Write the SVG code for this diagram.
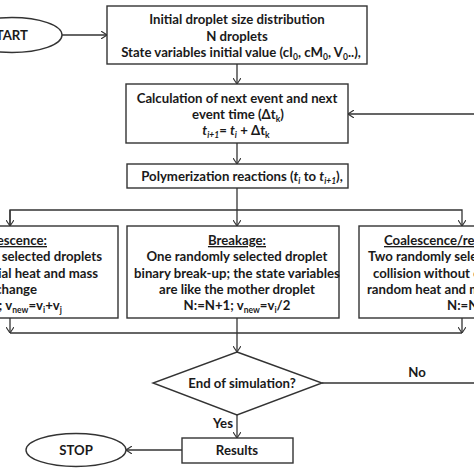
<svg xmlns="http://www.w3.org/2000/svg" width="474" height="474" viewBox="0 0 474 474">
<style>
  .box { fill: #ffffff; stroke: #333333; stroke-width: 1.4; }
  .ln { fill: none; stroke: #333333; stroke-width: 1.3; }
  text { font-family: Lato, "Liberation Sans", sans-serif; font-weight: bold; font-size: 13.2px; fill: #1a1a1a; }
  .c { text-anchor: middle; }
  .e { text-anchor: end; }
  .s { text-anchor: start; }
  .u { text-decoration: underline; }
  .sub { font-size: 8.5px; }
</style>
<defs>
  <marker id="arr" viewBox="0 0 6 8" refX="6" refY="4" markerWidth="6" markerHeight="8" markerUnits="userSpaceOnUse" orient="auto">
    <path d="M0,0 L6,4 L0,8" fill="none" stroke="#333333" stroke-width="1.1"/>
  </marker>
</defs>
<rect width="474" height="474" fill="#ffffff"/>

<g id="connectors">
  <line class="ln" x1="62" y1="35" x2="107" y2="35" marker-end="url(#arr)"/>
  <line class="ln" x1="237" y1="64" x2="237" y2="84" marker-end="url(#arr)"/>
  <line class="ln" x1="237" y1="143" x2="237" y2="164" marker-end="url(#arr)"/>
  <line class="ln" x1="237" y1="188" x2="237" y2="226" marker-end="url(#arr)"/>
  <polyline class="ln" points="10,226 10,210 462,210 462,226" marker-end="url(#arr)"/>
  <line class="ln" x1="10" y1="210" x2="10" y2="226" marker-end="url(#arr)"/>
  <line class="ln" x1="10" y1="318" x2="10" y2="333" marker-end="url(#arr)"/>
  <line class="ln" x1="462" y1="318" x2="462" y2="333" marker-end="url(#arr)"/>
  <line class="ln" x1="10" y1="333" x2="462" y2="333"/>
  <line class="ln" x1="237" y1="318" x2="237" y2="352" marker-end="url(#arr)"/>
  <path class="ln" d="M322,383 H490 V114 H348" marker-end="url(#arr)"/>
  <line class="ln" x1="237" y1="415" x2="237" y2="438" marker-end="url(#arr)"/>
  <line class="ln" x1="182" y1="450" x2="126" y2="450" marker-end="url(#arr)"/>
  <text class="c" x="417" y="377">No</text>
  <text class="c" x="223" y="428">Yes</text>
</g>

<g id="start">
  <ellipse class="box" cx="12" cy="35" rx="50" ry="17.5"/>
  <text class="e" x="28" y="40">START</text>
</g>

<g id="init">
  <rect class="box" x="107" y="6" width="260" height="58"/>
  <text class="c" x="237" y="24">Initial droplet size distribution</text>
  <text class="c" x="237" y="41">N droplets</text>
  <text class="c" x="241" y="57">State variables initial value (cI<tspan class="sub" dy="3">0</tspan><tspan dy="-3">, cM</tspan><tspan class="sub" dy="3">0</tspan><tspan dy="-3">, V</tspan><tspan class="sub" dy="3">0</tspan><tspan dy="-3">..),</tspan></text>
</g>

<g id="nextevent">
  <rect class="box" x="126" y="84" width="222" height="59"/>
  <text class="c" x="237" y="103">Calculation of next event and next</text>
  <text class="c" x="238" y="119">event time  (Δt<tspan class="sub" dy="3">k</tspan><tspan dy="-3">)</tspan></text>
  <text class="c" x="236" y="135"><tspan font-style="italic">t</tspan><tspan class="sub" font-style="italic" dy="3">i+1</tspan><tspan dy="-3">= </tspan><tspan font-style="italic">t</tspan><tspan class="sub" font-style="italic" dy="3">i</tspan><tspan dy="-3"> + Δt</tspan><tspan class="sub" dy="3">k</tspan></text>
</g>

<g id="polymerization">
  <rect class="box" x="127" y="164" width="221" height="24"/>
  <text class="c" x="242" y="181">Polymerization reactions (<tspan font-style="italic">t</tspan><tspan class="sub" font-style="italic" dy="3">i</tspan><tspan dy="-3"> to </tspan><tspan font-style="italic">t</tspan><tspan class="sub" font-style="italic" dy="3">i+1</tspan><tspan dy="-3">),</tspan></text>
</g>

<g id="coalescence">
  <rect class="box" x="-100" y="226" width="218" height="92"/>
  <text class="e u" x="47" y="245">Coalescence:</text>
  <text class="e" x="102" y="261">Two randomly selected droplets</text>
  <text class="e" x="98" y="278">with partial heat and mass</text>
  <text class="e" x="37" y="294">exchange</text>
  <text class="e" x="62" y="310">N:=N-1; v<tspan class="sub" dy="3">new</tspan><tspan dy="-3">=v</tspan><tspan class="sub" dy="3">i</tspan><tspan dy="-3">+v</tspan><tspan class="sub" dy="3">j</tspan></text>
</g>

<g id="breakage">
  <rect class="box" x="127" y="226" width="212" height="92"/>
  <text class="c u" x="237" y="245">Breakage:</text>
  <text class="c" x="237" y="261">One randomly selected droplet</text>
  <text class="c" x="237" y="278">binary break-up; the state variables</text>
  <text class="c" x="237" y="294">are like the mother droplet</text>
  <text class="c" x="237" y="310">N:=N+1; v<tspan class="sub" dy="3">new</tspan><tspan dy="-3">=v</tspan><tspan class="sub" dy="3">i</tspan><tspan dy="-3">/2</tspan></text>
</g>

<g id="redispersion">
  <rect class="box" x="359" y="226" width="220" height="92"/>
  <text class="s u" x="384" y="245">Coalescence/redispersion:</text>
  <text class="s" x="368" y="261">Two randomly selected droplets</text>
  <text class="s" x="373" y="278">collision without coalescence;</text>
  <text class="s" x="367" y="294">random heat and mass exchange</text>
  <text class="s" x="447" y="310">N:=N</text>
</g>

<g id="decision">
  <polygon class="box" points="237,352 322,383 237,415 153,383"/>
  <text class="c" x="242" y="388">End of simulation?</text>
</g>

<g id="results">
  <rect class="box" x="182" y="438" width="111" height="25"/>
  <text class="c" x="237" y="455">Results</text>
</g>

<g id="stop">
  <ellipse class="box" cx="76" cy="450" rx="50" ry="16.5"/>
  <text class="c" x="76" y="455">STOP</text>
</g>
</svg>
